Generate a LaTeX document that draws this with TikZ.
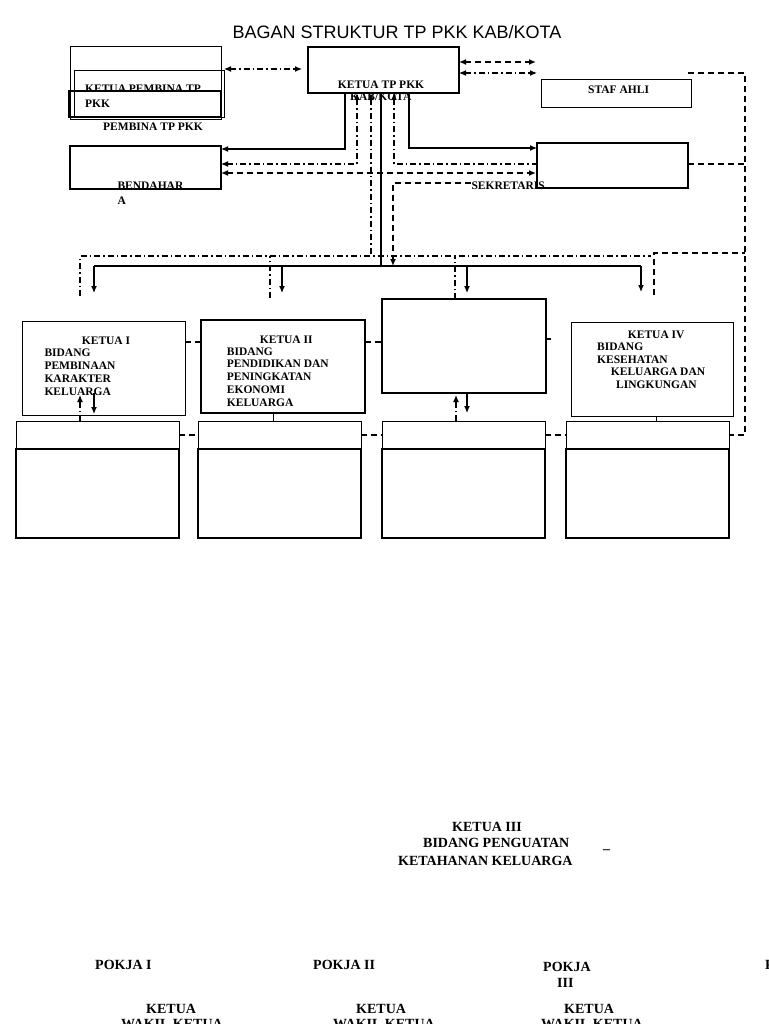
\documentclass[tikz,border=0pt]{standalone}
\usepackage{fontspec}
\setmainfont{Liberation Serif}
\newfontfamily\titlefont{Liberation Sans}
\usetikzlibrary{arrows.meta,calc}
\begin{document}
\begin{tikzpicture}[x=1pt,y=-1pt,
  box/.style={draw,line width=0.9pt,inner sep=0pt,outer sep=0pt},
  lbl/.style={inner sep=0pt,anchor=base west,font=\fontsize{11.5}{13}\selectfont\bfseries},
  biglbl/.style={inner sep=0pt,anchor=base west,font=\fontsize{14}{16}\selectfont\bfseries},
  sol/.style={line width=1.2pt},
  dsh/.style={line width=1.4pt,dash pattern=on 6pt off 4pt},
  ddt/.style={line width=1.2pt,dash pattern=on 6pt off 3pt on 1.5pt off 3pt},
  >={Latex[length=7pt,width=6pt]}
]
\fill[white] (0,0) rectangle (768,1024);
\useasboundingbox (0,0) rectangle (768,1024);
\clip (0,0) rectangle (768,1024);

\node[inner sep=0pt,anchor=base,font=\titlefont\fontsize{18}{20}\selectfont] (title) at (397,39) {BAGAN STRUKTUR TP PKK KAB/KOTA};

% boxes
\node[box,minimum width=151pt,minimum height=73pt] (pembO) at (145.5,82.5) {};
\node[box,minimum width=150pt,minimum height=47pt] (pembA) at (149,93.5) {};
\node[box,line width=1.3pt,minimum width=152pt,minimum height=26pt] (pembB) at (145,104) {};
\node[box,line width=1.1pt,minimum width=151pt,minimum height=46pt] (ketua) at (383.5,70) {};
\node[box,minimum width=150pt,minimum height=28pt] (staf) at (616,93) {};
\node[box,line width=1.2pt,minimum width=151pt,minimum height=45pt] (sekr) at (612.5,165.5) {};
\node[box,line width=1.2pt,minimum width=151pt,minimum height=43pt] (bend) at (145.5,167.5) {};
\node[box,minimum width=163pt,minimum height=94pt] (k1) at (103.5,368) {};
\node[box,line width=1.4pt,minimum width=164pt,minimum height=93pt] (k2) at (283,366.5) {};
\node[box,line width=1.2pt,minimum width=164pt,minimum height=94pt] (k3) at (464,346) {};
\node[box,minimum width=162pt,minimum height=94pt] (k4) at (652,369) {};
\node[box,minimum width=163pt,minimum height=28pt] (h1) at (97.5,435) {};
\node[box,minimum width=163pt,minimum height=28pt] (h2) at (279.5,435) {};
\node[box,minimum width=163pt,minimum height=28pt] (h3) at (463.5,435) {};
\node[box,minimum width=163pt,minimum height=28pt] (h4) at (647.5,435) {};
\node[box,line width=1.4pt,minimum width=163pt,minimum height=89pt] (b1) at (97.5,493.5) {};
\node[box,line width=1.4pt,minimum width=163pt,minimum height=89pt] (b2) at (279.5,493.5) {};
\node[box,line width=1.4pt,minimum width=163pt,minimum height=89pt] (b3) at (463.5,493.5) {};
\node[box,line width=1.4pt,minimum width=163pt,minimum height=89pt] (b4) at (647.5,493.5) {};

% texts
\node[lbl] (tpemb1) at (85,92.3) {KETUA PEMBINA TP};
\node[lbl] (tpemb2) at (85,107.3) {PKK};
\node[lbl] (tpemb3) at (103,130.7) {PEMBINA TP PKK};
\node[lbl] (tket1) at (337.7,89) {KETUA TP PKK};
\node[lbl] (tket2) at (350,101) {KAB/KOTA};
\node[lbl] (tstaf) at (588,94) {STAF AHLI};
\node[lbl] (sekrlbl) at (471.3,190) {SEKRETARIS};
\node[lbl] (tbend1) at (117.3,190) {BENDAHAR};
\node[lbl] (tbend2) at (117.3,205) {A};

\node[lbl] (tk1a) at (81.7,344) {KETUA I};
\node[lbl] (tk1b) at (44.3,356.7) {BIDANG};
\node[lbl] (tk1c) at (44.3,369.3) {PEMBINAAN};
\node[lbl] (tk1d) at (44.3,382.3) {KARAKTER};
\node[lbl] (tk1e) at (44.3,395.7) {KELUARGA};

\node[lbl] (tk2a) at (259.7,343) {KETUA II};
\node[lbl] (tk2b) at (226.7,355) {BIDANG};
\node[lbl] (tk2c) at (226.7,367.3) {PENDIDIKAN DAN};
\node[lbl] (tk2d) at (226.7,380.3) {PENINGKATAN};
\node[lbl] (tk2e) at (226.7,393.3) {EKONOMI};
\node[lbl] (tk2f) at (226.7,406) {KELUARGA};

\node[lbl] (tk4a) at (627.7,338.3) {KETUA IV};
\node[lbl] (tk4b) at (597,350) {BIDANG};
\node[lbl] (tk4c) at (597,363.3) {KESEHATAN};
\node[lbl] (tk4d) at (610.7,375.7) {KELUARGA DAN};
\node[lbl] (tk4e) at (616,388.3) {LINGKUNGAN};

\node[biglbl] (tk3a) at (452,831) {KETUA III};
\node[biglbl] (tk3b) at (423,847.7) {BIDANG PENGUATAN};
\node[biglbl] (tk3c) at (398,865) {KETAHANAN KELUARGA};
\node[biglbl] (tdash) at (603,853) {--};

\node[biglbl] (pk1) at (95,969) {POKJA I};
\node[biglbl] (pk2) at (313,969) {POKJA II};
\node[biglbl] (pk3a) at (543,971) {POKJA};
\node[biglbl] (pk3b) at (557,987) {III};
\node[biglbl] (pk4) at (765,969) {POKJA IV};
\node[biglbl] (kt1) at (146,1013) {KETUA};
\node[biglbl] (wk1) at (121,1028) {WAKIL KETUA};
\node[biglbl] (kt2) at (356,1013) {KETUA};
\node[biglbl] (wk2) at (333,1028) {WAKIL KETUA};
\node[biglbl] (kt3) at (564,1013) {KETUA};
\node[biglbl] (wk3) at (541,1028) {WAKIL KETUA};

% connectors top
\draw[ddt,<->] ([yshift=1pt]pembA.north east) -- ([xshift=-6pt,yshift=1pt]ketua.west);
\draw[dsh,<->] ([yshift=8pt]ketua.east) -- ([xshift=-5pt,yshift=17pt]staf.north west);
\draw[ddt,<->] ([yshift=-3pt]ketua.east) -- ([xshift=-4pt,yshift=6pt]staf.north west);
\draw[dsh] ([xshift=-3pt,yshift=6pt]staf.north east) -- ++(57,0) |- (h4.east);
\draw[dsh] ([yshift=1.5pt]sekr.east) -- ++(57,0);
\draw[dsh] ([xshift=2pt,yshift=27pt]k4.north) |- ++(91,-42);

\draw[sol,->] ([xshift=37pt]ketua.south west) |- ([yshift=-3pt]bend.north east);
\draw[sol,->] ([xshift=101pt]ketua.south west) |- ([yshift=-5pt]sekr.north west);
\draw[ddt,<->] ([xshift=49pt]ketua.south west) |- ([yshift=-18pt]bend.north east);
\draw[ddt,<-] ([xshift=86pt]ketua.south west) |- ([yshift=-21pt]sekr.north west);
\draw[dsh,<->] ([yshift=-27pt]bend.north east) -- ([xshift=-1pt,yshift=-30pt]sekr.north west);

% dash-dot tree
\coordinate (ddL) at (80,256);
\coordinate (ddR) at (651,256);
\draw[ddt,<-] ([xshift=63pt]ketua.south west) -- ++(0,163);
\draw[ddt] ([xshift=-23.5pt,yshift=25pt]k1.north) -- (ddL) -- (ddR);
\draw[ddt] ([xshift=-13pt,yshift=22pt]k2.north) -- ++(0,-42);
\draw[ddt] ([xshift=-9pt]k3.north) -- ++(0,-43);

% solid bus
\coordinate (busL) at (94,266);
\coordinate (busR) at (641,266);
\draw[sol] ([xshift=73pt]ketua.south west) -- ++(0,173);
\draw[sol] (busL) -- (busR);
\draw[sol,->] (busL) -- ([xshift=-9.5pt,yshift=28pt]k1.north);
\draw[sol,->] ([xshift=-1pt,yshift=54pt]k2.north) -- ([xshift=-1pt,yshift=27pt]k2.north);
\draw[sol,->] ([xshift=3pt,yshift=33pt]k3.north) -- ([xshift=3pt,yshift=6pt]k3.north);
\draw[sol,->] (busR) -- ([xshift=-11pt,yshift=30pt]k4.north);

% dashed from sekretaris label
\draw[dsh,->] ([xshift=-66pt,yshift=5pt]sekr.south west) -- ++(-78,0) -- ++(0,83);

% row 2 links
\draw[dsh] ([yshift=26pt]k1.east) -- ([yshift=24.5pt]k2.west);
\draw[dsh] ([yshift=24.5pt]k2.east) -- ([yshift=4pt]k3.west);
\draw[sol] ([yshift=7pt]k3.east) -- ++(5,0);

% inner arrows
\draw[ddt,->] ([xshift=-17.5pt]h1.north) -- ([xshift=-23.5pt,yshift=20pt]k1.south);
\draw[sol,->] ([xshift=-9.5pt,yshift=22pt]k1.south) -- ([xshift=-9.5pt,yshift=1pt]k1.south);
\draw[ddt,->] ([xshift=-7.5pt]h3.north) -- ([xshift=-8pt,yshift=-2pt]k3.south);
\draw[sol,->] ([xshift=3pt]k3.south) -- ([xshift=3pt,yshift=-20pt]k3.south);
\draw[line width=0.8pt] ([xshift=-10pt]k2.south) -- ([xshift=-6.5pt]h2.north);
\draw[line width=0.8pt] ([xshift=4pt]k4.south) -- ([xshift=8.5pt]h4.north);

% header links
\draw[dsh] (h1.east) -- (h2.west);
\draw[dsh] (h2.east) -- (h3.west);
\draw[dsh] (h3.east) -- (h4.west);
\end{tikzpicture}
\end{document}
